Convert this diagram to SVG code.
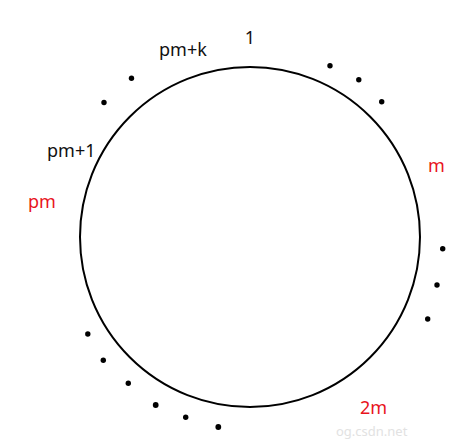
<svg xmlns="http://www.w3.org/2000/svg" width="474" height="445" viewBox="0 0 474 445">
<style>
.lbl{font-family:"Noto Sans","Liberation Sans",sans-serif;font-size:18px;fill:#111}
.red{fill:#e8141c}
.dot{fill:#000}
.wm{font-family:"Noto Sans","Liberation Sans",sans-serif;font-size:13px;fill:#e2e2e2}
</style>
<rect width="474" height="445" fill="#fff"/>
<g id="circle"><circle cx="250" cy="237" r="170" fill="none" stroke="#000" stroke-width="2"/></g>
<g id="dots">
<circle class="dot" cx="131.5" cy="78.3" r="2.7"/>
<circle class="dot" cx="104" cy="102.5" r="2.7"/>
<circle class="dot" cx="330" cy="65.8" r="2.7"/>
<circle class="dot" cx="358.8" cy="79.7" r="2.7"/>
<circle class="dot" cx="381.7" cy="101.7" r="2.7"/>
<circle class="dot" cx="442.7" cy="248.7" r="2.7"/>
<circle class="dot" cx="437" cy="285" r="2.7"/>
<circle class="dot" cx="427.7" cy="319" r="2.7"/>
<circle class="dot" cx="87.8" cy="334" r="2.7"/>
<circle class="dot" cx="103.3" cy="360.3" r="2.7"/>
<circle class="dot" cx="128.3" cy="383.3" r="2.7"/>
<circle class="dot" cx="155.7" cy="405" r="2.9"/>
<circle class="dot" cx="185.7" cy="417.3" r="2.7"/>
<circle class="dot" cx="218.3" cy="427" r="2.9"/>
</g>
<g id="labels">
<text class="lbl" x="250" y="44" text-anchor="middle">1</text>
<text class="lbl" x="159" y="56">pm+k</text>
<text class="lbl" x="47" y="157">pm+1</text>
<text class="lbl red" x="28" y="208">pm</text>
<text class="lbl red" x="428" y="172">m</text>
<text class="lbl red" x="360" y="414">2m</text>
<text class="wm" x="336" y="436">og.csdn.net</text>
</g>
</svg>
